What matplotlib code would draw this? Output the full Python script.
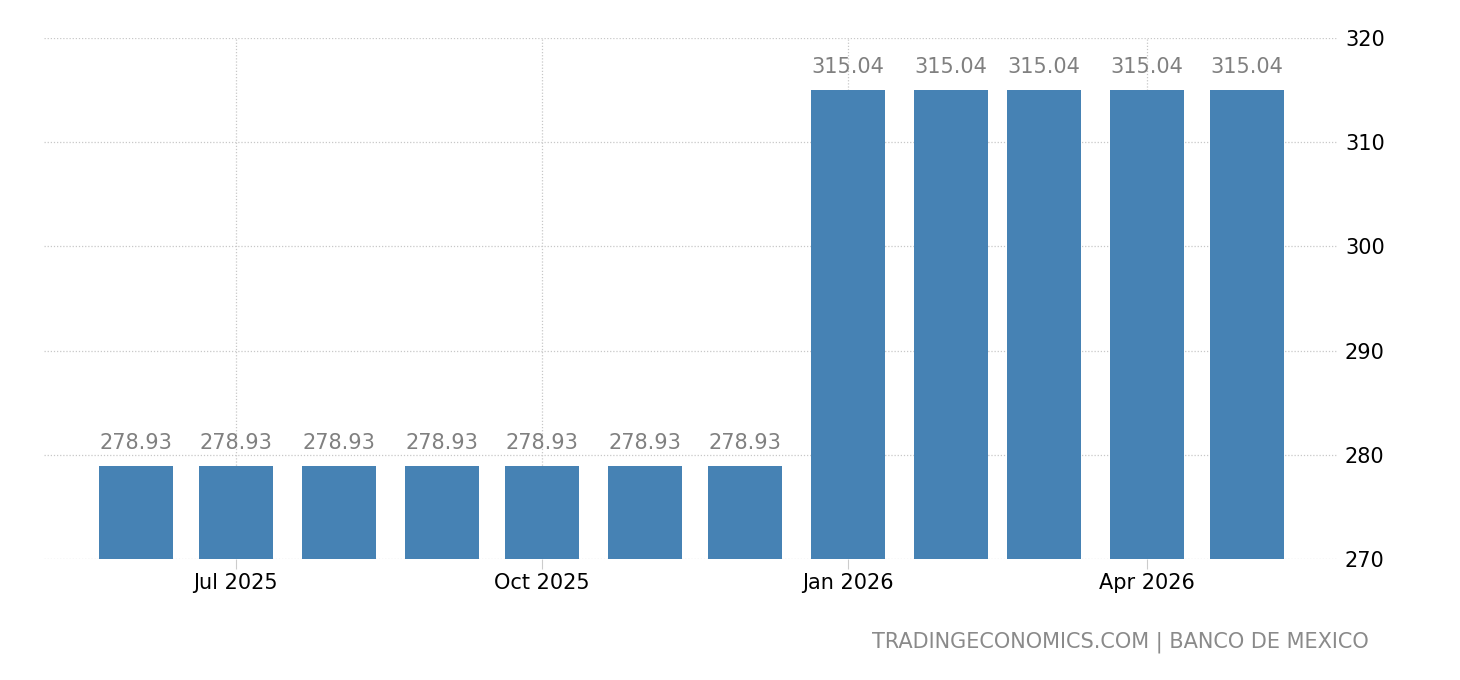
import matplotlib
matplotlib.use("Agg")
import matplotlib.pyplot as plt
import matplotlib.dates as mdates
import datetime as dt

dates = ["2025-06-01", "2025-07-01", "2025-08-01", "2025-09-01", "2025-10-01", "2025-11-01",
         "2025-12-01", "2026-01-01", "2026-02-01", "2026-03-01", "2026-04-01", "2026-05-01"]
values = [278.93, 278.93, 278.93, 278.93, 278.93, 278.93, 278.93,
          315.04, 315.04, 315.04, 315.04, 315.04]
xtick_dates = ["2025-07-01", "2025-10-01", "2026-01-01", "2026-04-01"]
xtick_labels = ["Jul 2025", "Oct 2025", "Jan 2026", "Apr 2026"]
yticks = [270, 280, 290, 300, 310, 320]

plt.rcParams['font.family'] = ['DejaVu Sans']

fig = plt.figure(figsize=(14.6, 6.8), dpi=100)
ax = fig.add_axes([44/1460, 1-559/680, (1338-44)/1460, (559-38)/680])

x = [mdates.date2num(dt.date.fromisoformat(d)) for d in dates]
ax.bar(x, [v - 270 for v in values], bottom=270, width=22.3, color="#4682b4", zorder=3)

for xi, v in zip(x, values):
    ax.text(xi, v + 1.2, f"{v:.2f}", ha="center", va="bottom", color="#808080", fontsize=15)

x0 = mdates.date2num(dt.date(2025, 7, 1))
ax.set_xlim(x0 - 57.7, x0 - 57.7 + 1294/3.325)
ax.set_ylim(270, 320)

xt = [mdates.date2num(dt.date.fromisoformat(d)) for d in xtick_dates]
ax.set_xticks(xt)
ax.set_xticklabels(xtick_labels, fontsize=15)
ax.set_yticks(yticks)
ax.set_yticklabels([str(v) for v in yticks], fontsize=15)
ax.yaxis.tick_right()
ax.tick_params(axis="y", length=0, pad=5)
ax.tick_params(axis="x", length=7, color="#cccccc", pad=3)

for s in ax.spines.values():
    s.set_visible(False)
ax.grid(True, color="#c8c8c8", linestyle=(0, (1, 1.5)), linewidth=0.9, zorder=0)
ax.set_axisbelow(True)

fig.text(1369/1460, 1-642/680, "TRADINGECONOMICS.COM | BANCO DE MEXICO",
         ha="right", va="center", color="#8a8a8a", fontsize=15)

fig.savefig("out.png", dpi=100)
